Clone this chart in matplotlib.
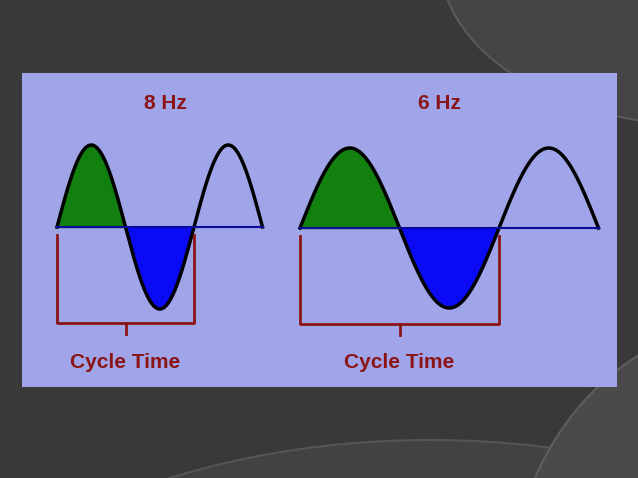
import numpy as np
import matplotlib.pyplot as plt
from matplotlib.patches import Rectangle, Ellipse

# diagram data (pixel layout of the slide)
labels = ["8 Hz", "6 Hz"]
starts = [57, 300]          # left edge of each wave
periods = [137, 199]        # one full cycle width
baselines = [227, 228]
amps = [82, 80]
cap_labels = ["Cycle Time", "Cycle Time"]

W, H = 638, 478
fig = plt.figure(figsize=(W / 100, H / 100), dpi=100)
fig.patch.set_facecolor("#393939")
ax = fig.add_axes([0, 0, 1, 1])
ax.set_xlim(0, W)
ax.set_ylim(H, 0)
ax.axis("off")

# background swooshes
ax.add_patch(Ellipse((700, -40), 520, 330, facecolor="#454545", edgecolor="#5a5a5a", lw=1.5))
ax.add_patch(Ellipse((430, 760), 1100, 640, facecolor="#424242", edgecolor="#555555", lw=1.5))
ax.add_patch(Ellipse((760, 600), 500, 560, facecolor="#4a4a4a", edgecolor="#5e5e5e", lw=1.5))

# panel
ax.add_patch(Rectangle((22, 73), 595, 314, facecolor="#a0a4e8", edgecolor="none", zorder=2))

red = "#8b1414"
for i in range(2):
    x0, T, y0, A = starts[i], periods[i], baselines[i], amps[i]
    xend = x0 + 1.5 * T
    x = np.linspace(x0, xend, 500)
    y = y0 - A * np.sin(2 * np.pi * (x - x0) / T)
    xh = np.linspace(x0, x0 + T / 2, 200)
    ax.fill_between(xh, y0, y0 - A * np.sin(2 * np.pi * (xh - x0) / T), color="#12800f", zorder=3)
    xt = np.linspace(x0 + T / 2, x0 + T, 200)
    ax.fill_between(xt, y0, y0 - A * np.sin(2 * np.pi * (xt - x0) / T), color="#0a0af5", zorder=3)
    ax.plot(x, y, color="black", lw=2.5, zorder=4)
    ax.plot([x0, xend], [y0, y0], color="#0a0a9a", lw=1.5, zorder=5)
    # bracket
    yb = y0 + 96
    ax.plot([x0, x0, x0 + T, x0 + T], [y0 + 8, yb, yb, y0 + 8], color=red, lw=2, zorder=4)
    xm = x0 + T / 2
    ax.plot([xm, xm], [yb, yb + 11], color=red, lw=2, zorder=4)
    ax.text(x0 + T / 2 + 40, 103, labels[i], color=red, fontsize=15, fontweight="bold",
            family="Liberation Sans", ha="center", va="center", zorder=5)
    ax.text(xm, 363, cap_labels[i], color=red, fontsize=15, fontweight="bold",
            family="Liberation Sans", ha="center", va="center", zorder=5)

fig.savefig("out.png", dpi=100, facecolor=fig.get_facecolor())
